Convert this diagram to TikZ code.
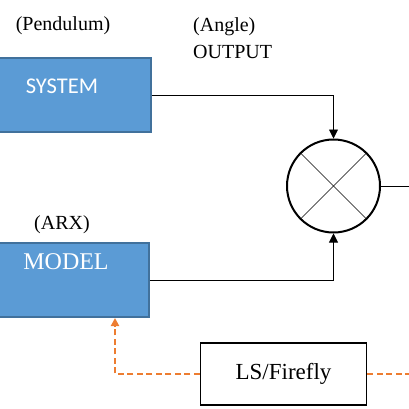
\documentclass[tikz,border=0pt]{standalone}
\usepackage{fontspec}
\setmainfont{Liberation Serif}
\newfontfamily\calfont{Carlito}
\usetikzlibrary{arrows.meta}
\definecolor{boxblue}{HTML}{5B9BD5}
\definecolor{boxedge}{HTML}{41719C}
\definecolor{dashor}{HTML}{ED7D31}
\tikzset{
  bluebox/.style={draw=boxedge, line width=1.5pt, fill=boxblue, rectangle, inner sep=0pt},
  lbl/.style={font=\fontsize{20}{22}\selectfont, inner sep=0pt},
  sig/.style={line width=0.9pt, -{Triangle[length=9pt,width=9pt]}},
  fbline/.style={draw=dashor, line width=2pt, dash pattern=on 6pt off 3.5pt},
  fb/.style={fbline, -{Triangle[length=8pt,width=8pt,fill=dashor]}},
}
\begin{document}
\begin{tikzpicture}[x=1pt,y=-1pt]
\useasboundingbox (0,0) rectangle (409,409);
% labels
\node[lbl] (pend) at (63,26) {(Pendulum)};
\node[lbl, anchor=west] (ang) at (193,27) {(Angle)};
\node[lbl, anchor=west] (outl) at (193,52) {OUTPUT};
\node[lbl] (arx) at (62,225) {(ARX)};
% boxes
\node[bluebox, minimum width=154pt, minimum height=74pt] (sys) at (74,95) {};
\node[font=\calfont\fontsize{22.5}{24}\selectfont, text=white, inner sep=0pt] (systxt) at (62,86) {SYSTEM};
\node[bluebox, minimum width=152pt, minimum height=74pt] (model) at (73,280) {};
\node[font=\fontsize{24}{26}\selectfont, text=white, inner sep=0pt] (modeltxt) at (66,262) {MODEL};
% summing junction
\node[draw, circle, line width=2pt, minimum size=93pt, inner sep=0pt] (sum) at (333.5,186) {};
\draw[line width=0.6pt] (sum.north west) -- (sum.south east);
\draw[line width=0.6pt] (sum.north east) -- (sum.south west);
% LS box
\node[draw, line width=1.5pt, minimum width=166pt, minimum height=62pt, font=\fontsize{23}{25}\selectfont] (ls) at (283.5,374) {LS/Firefly};
% connectors
\draw[sig] (sys.east) -| (sum.north);
\draw[sig] (model.east) -| (sum.south);
\coordinate (out) at (411,186);
\draw[line width=0.9pt] (sum.east) -- (out);
\coordinate (mb) at (115,318);
\draw[fb] (ls.west) -| (mb);
\coordinate (rr) at (411,374);
\draw[fbline] (ls.east) -- (rr);
\end{tikzpicture}
\end{document}
